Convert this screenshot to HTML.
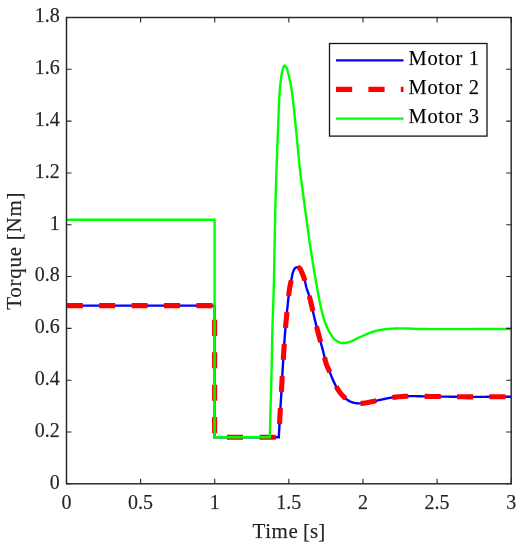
<!DOCTYPE html>
<html><head><meta charset="utf-8"><title>Torque vs Time</title>
<style>html,body{margin:0;padding:0;background:#fff;} svg{display:block;}</style>
</head><body>
<svg width="524" height="550" viewBox="0 0 524 550"><rect x="0" y="0" width="524" height="550" fill="#fff"/>
<clipPath id="c"><rect x="66.5" y="17.5" width="444.7" height="466.3"/></clipPath>
<g clip-path="url(#c)" fill="none" stroke-linejoin="miter">
<path d="M66.50 305.60L214.60 305.60L214.60 437.20L278.80 437.20L278.93 434.91L279.05 432.57L279.18 430.20L279.31 427.82L279.44 425.44L279.57 423.07L279.70 420.73L279.82 418.44L279.95 416.20L280.07 414.04L280.19 411.97L280.30 410.00L280.38 408.64L280.46 407.36L280.53 406.13L280.61 404.94L280.68 403.79L280.76 402.65L280.83 401.52L280.90 400.39L280.97 399.23L281.05 398.04L281.12 396.80L281.20 395.50L281.30 393.83L281.39 392.11L281.49 390.34L281.58 388.53L281.68 386.69L281.78 384.83L281.88 382.95L281.98 381.06L282.08 379.18L282.19 377.30L282.29 375.44L282.40 373.60L282.51 371.78L282.62 369.96L282.73 368.15L282.85 366.33L282.96 364.51L283.08 362.70L283.20 360.88L283.32 359.06L283.44 357.25L283.56 355.43L283.68 353.62L283.80 351.80L283.92 350.00L284.03 348.21L284.15 346.45L284.26 344.68L284.37 342.92L284.48 341.15L284.60 339.37L284.72 337.57L284.85 335.74L284.99 333.87L285.14 331.96L285.30 330.00L285.51 327.50L285.75 324.82L286.01 322.02L286.28 319.13L286.56 316.20L286.85 313.28L287.13 310.40L287.42 307.60L287.69 304.94L287.95 302.46L288.19 300.20L288.40 298.20L288.50 297.24L288.60 296.35L288.68 295.52L288.77 294.73L288.85 293.99L288.93 293.27L289.01 292.57L289.09 291.88L289.18 291.19L289.28 290.49L289.38 289.76L289.50 289.00L289.64 288.18L289.79 287.35L289.94 286.50L290.11 285.66L290.28 284.81L290.46 283.96L290.64 283.11L290.82 282.28L291.00 281.46L291.17 280.65L291.34 279.86L291.50 279.10L291.63 278.47L291.75 277.85L291.86 277.23L291.97 276.62L292.08 276.02L292.19 275.43L292.31 274.85L292.43 274.29L292.55 273.74L292.69 273.21L292.84 272.69L293.00 272.20L293.13 271.83L293.27 271.46L293.40 271.09L293.54 270.73L293.69 270.38L293.83 270.05L293.99 269.72L294.15 269.42L294.33 269.13L294.51 268.86L294.70 268.62L294.90 268.40L295.07 268.25L295.24 268.10L295.42 267.96L295.61 267.84L295.80 267.72L295.99 267.62L296.19 267.53L296.39 267.45L296.60 267.39L296.80 267.34L297.00 267.31L297.20 267.30L297.41 267.30L297.63 267.33L297.85 267.37L298.08 267.42L298.31 267.49L298.54 267.58L298.76 267.69L298.98 267.80L299.20 267.93L299.41 268.08L299.61 268.23L299.80 268.40L300.04 268.66L300.27 268.95L300.48 269.28L300.68 269.64L300.87 270.02L301.05 270.43L301.23 270.85L301.40 271.28L301.57 271.71L301.75 272.15L301.92 272.58L302.10 273.00L302.30 273.47L302.51 273.94L302.71 274.42L302.90 274.91L303.10 275.40L303.29 275.90L303.48 276.41L303.67 276.92L303.86 277.45L304.04 277.99L304.22 278.54L304.40 279.10L304.61 279.81L304.81 280.56L305.00 281.33L305.19 282.13L305.37 282.94L305.55 283.76L305.74 284.58L305.92 285.40L306.10 286.20L306.30 286.99L306.49 287.76L306.70 288.50L306.89 289.12L307.08 289.71L307.28 290.29L307.48 290.86L307.68 291.41L307.89 291.97L308.09 292.52L308.30 293.09L308.50 293.66L308.71 294.25L308.91 294.86L309.10 295.50L309.34 296.32L309.57 297.17L309.80 298.04L310.02 298.93L310.25 299.84L310.47 300.76L310.70 301.70L310.92 302.64L311.14 303.58L311.36 304.53L311.58 305.47L311.80 306.40L312.03 307.37L312.25 308.34L312.48 309.32L312.70 310.31L312.92 311.30L313.15 312.29L313.37 313.28L313.59 314.27L313.82 315.26L314.04 316.24L314.27 317.22L314.50 318.20L314.73 319.15L314.96 320.10L315.19 321.05L315.42 321.99L315.65 322.94L315.88 323.88L316.12 324.82L316.35 325.76L316.59 326.69L316.82 327.63L317.06 328.57L317.30 329.50L317.54 330.42L317.77 331.34L318.01 332.26L318.25 333.17L318.49 334.08L318.73 335.00L318.98 335.91L319.22 336.82L319.46 337.74L319.71 338.65L319.95 339.58L320.20 340.50L320.45 341.45L320.71 342.40L320.97 343.35L321.23 344.30L321.49 345.26L321.75 346.22L322.01 347.18L322.27 348.14L322.53 349.10L322.79 350.06L323.05 351.03L323.30 352.00L323.55 353.00L323.80 354.01L324.03 355.04L324.27 356.08L324.50 357.12L324.74 358.15L324.98 359.18L325.22 360.19L325.47 361.18L325.74 362.15L326.01 363.09L326.30 364.00L326.56 364.73L326.82 365.44L327.10 366.13L327.38 366.81L327.66 367.47L327.96 368.12L328.25 368.76L328.54 369.40L328.84 370.04L329.13 370.69L329.42 371.34L329.70 372.00L329.98 372.67L330.25 373.33L330.52 374.00L330.78 374.67L331.05 375.34L331.32 376.01L331.59 376.67L331.86 377.34L332.13 378.01L332.41 378.67L332.70 379.34L333.00 380.00L333.31 380.67L333.61 381.35L333.92 382.03L334.24 382.70L334.55 383.38L334.88 384.05L335.21 384.72L335.54 385.39L335.89 386.05L336.25 386.71L336.62 387.36L337.00 388.00L337.40 388.65L337.81 389.30L338.24 389.95L338.67 390.60L339.12 391.24L339.57 391.88L340.03 392.51L340.50 393.12L340.97 393.72L341.45 394.30L341.92 394.86L342.40 395.40L342.82 395.86L343.25 396.31L343.68 396.74L344.11 397.17L344.54 397.59L344.98 397.99L345.42 398.38L345.87 398.76L346.32 399.12L346.78 399.46L347.24 399.79L347.70 400.10L348.12 400.37L348.55 400.62L348.98 400.86L349.41 401.09L349.85 401.30L350.28 401.50L350.73 401.70L351.17 401.88L351.62 402.05L352.08 402.21L352.54 402.36L353.00 402.50L353.48 402.63L353.96 402.76L354.46 402.87L354.95 402.96L355.45 403.05L355.96 403.13L356.46 403.20L356.97 403.25L357.48 403.30L357.99 403.34L358.50 403.38L359.00 403.40L359.50 403.42L360.00 403.42L360.50 403.41L361.00 403.40L361.50 403.37L362.00 403.34L362.50 403.30L363.01 403.25L363.52 403.19L364.04 403.13L364.56 403.07L365.10 403.00L365.73 402.91L366.37 402.81L367.03 402.69L367.69 402.56L368.36 402.42L369.04 402.28L369.72 402.14L370.40 401.99L371.08 401.84L371.76 401.69L372.43 401.54L373.10 401.40L373.76 401.26L374.42 401.12L375.08 400.99L375.73 400.85L376.38 400.71L377.03 400.56L377.69 400.42L378.36 400.28L379.03 400.14L379.71 399.99L380.40 399.85L381.10 399.70L381.91 399.53L382.72 399.35L383.54 399.17L384.37 398.98L385.20 398.79L386.05 398.61L386.91 398.42L387.78 398.24L388.68 398.07L389.60 397.90L390.54 397.74L391.50 397.60L392.77 397.43L394.10 397.27L395.47 397.11L396.88 396.97L398.31 396.83L399.77 396.71L401.25 396.60L402.73 396.50L404.22 396.40L405.70 396.32L407.16 396.26L408.60 396.20L410.03 396.16L411.46 396.14L412.89 396.14L414.33 396.15L415.76 396.17L417.20 396.20L418.63 396.24L420.06 396.27L421.50 396.31L422.93 396.35L424.37 396.38L425.80 396.40L427.23 396.42L428.67 396.43L430.10 396.45L431.53 396.47L432.97 396.48L434.40 396.50L435.83 396.52L437.27 396.53L438.70 396.55L440.13 396.57L441.57 396.58L443.00 396.60L444.40 396.62L445.76 396.64L447.09 396.65L448.40 396.67L449.71 396.69L451.03 396.71L452.39 396.73L453.79 396.74L455.26 396.76L456.81 396.78L458.45 396.79L460.20 396.80L463.49 396.82L467.11 396.83L471.01 396.83L475.14 396.83L479.46 396.83L483.92 396.83L488.47 396.82L493.07 396.82L497.67 396.81L502.22 396.81L506.68 396.80L511.00 396.80" stroke="#0000ff" stroke-width="2.4"/>
<path d="M66.75 305.60L82.88 305.60M99.13 305.60L115.25 305.60M131.63 305.60L147.63 305.60M164.00 305.60L180.13 305.60M196.38 305.60L212.50 305.60M214.60 319.75L214.60 335.88M214.60 352.25L214.60 368.26M214.60 384.63L214.60 400.76M214.60 417.01L214.60 433.13M226.91 437.20L243.03 437.20M259.53 437.20L275.78 437.20M279.52 423.99L279.57 423.07L279.70 420.73L279.82 418.44L279.95 416.20L280.07 414.04L280.19 411.97L280.30 410.00L280.38 408.64L280.41 408.14M281.40 391.92L281.49 390.34L281.58 388.53L281.68 386.69L281.78 384.83L281.88 382.95L281.98 381.06L282.08 379.18L282.19 377.30L282.26 376.06M283.27 359.84L283.32 359.06L283.44 357.25L283.56 355.43L283.68 353.62L283.80 351.80L283.92 350.00L284.03 348.21L284.15 346.45L284.26 344.68L284.30 344.00M285.48 327.92L285.51 327.50L285.75 324.82L286.01 322.02L286.28 319.13L286.56 316.20L286.85 313.28L286.98 311.99M288.64 295.95L288.68 295.52L288.77 294.73L288.85 293.99L288.93 293.27L289.01 292.57L289.09 291.88L289.18 291.19L289.28 290.49L289.38 289.76L289.50 289.00L289.64 288.18L289.79 287.35L289.94 286.50L290.11 285.66L290.28 284.81L290.46 283.96L290.64 283.11L290.82 282.28L291.00 281.46L291.17 280.65L291.24 280.30M297.88 267.37L298.08 267.42L298.31 267.49L298.54 267.58L298.76 267.69L298.98 267.80L299.20 267.93L299.41 268.08L299.61 268.23L299.80 268.40L300.04 268.66L300.27 268.95L300.48 269.28L300.68 269.64L300.87 270.02L301.05 270.43L301.23 270.85L301.40 271.28L301.57 271.71L301.75 272.15L301.92 272.58L302.10 273.00L302.30 273.47L302.51 273.94L302.71 274.42L302.90 274.91L303.10 275.40L303.29 275.90L303.48 276.41L303.67 276.92L303.86 277.45L304.04 277.99L304.22 278.54L304.40 279.10L304.61 279.81L304.81 280.56L304.86 280.77M309.24 296.00L309.34 296.32L309.57 297.17L309.80 298.04L310.02 298.93L310.25 299.84L310.47 300.76L310.70 301.70L310.92 302.64L311.14 303.58L311.36 304.53L311.58 305.47L311.80 306.40L312.03 307.37L312.25 308.34L312.48 309.32L312.70 310.31L312.87 311.07M316.57 326.64L316.59 326.69L316.82 327.63L317.06 328.57L317.30 329.50L317.54 330.42L317.77 331.34L318.01 332.26L318.25 333.17L318.49 334.08L318.73 335.00L318.98 335.91L319.22 336.82L319.46 337.74L319.71 338.65L319.95 339.58L320.20 340.50L320.45 341.45L320.57 341.87M324.56 357.36L324.74 358.15L324.98 359.18L325.22 360.19L325.47 361.18L325.74 362.15L326.01 363.09L326.30 364.00L326.56 364.73L326.82 365.44L327.10 366.13L327.38 366.81L327.66 367.47L327.96 368.12L328.25 368.76L328.54 369.40L328.84 370.04L329.13 370.69L329.42 371.34L329.70 372.00L329.77 372.18M336.17 386.56L336.25 386.71L336.62 387.36L337.00 388.00L337.40 388.65L337.81 389.30L338.24 389.95L338.67 390.60L339.12 391.24L339.57 391.88L340.03 392.51L340.50 393.12L340.97 393.72L341.45 394.30L341.92 394.86L342.40 395.40L342.82 395.86L343.25 396.31L343.68 396.74L344.11 397.17L344.54 397.59L344.98 397.99L345.42 398.38L345.74 398.65M360.51 403.41L361.00 403.40L361.50 403.37L362.00 403.34L362.50 403.30L363.01 403.25L363.52 403.19L364.04 403.13L364.56 403.07L365.10 403.00L365.73 402.91L366.37 402.81L367.03 402.69L367.69 402.56L368.36 402.42L369.04 402.28L369.72 402.14L370.40 401.99L371.08 401.84L371.76 401.69L372.43 401.54L373.10 401.40L373.76 401.26L374.42 401.12L375.08 400.99L375.73 400.85L376.26 400.73M392.31 397.49L392.77 397.43L394.10 397.27L395.47 397.11L396.88 396.97L398.31 396.83L399.77 396.71L401.25 396.60L402.73 396.50L404.22 396.40L405.70 396.32L407.16 396.26L408.25 396.21M424.63 396.38L425.80 396.40L427.23 396.42L428.67 396.43L430.10 396.45L431.53 396.47L432.97 396.48L434.40 396.50L435.83 396.52L437.27 396.53L438.70 396.55L440.13 396.57L440.75 396.57M457.00 396.78L458.45 396.79L460.20 396.80L463.49 396.82L467.11 396.83L471.01 396.83L473.12 396.83M489.37 396.82L493.07 396.82L497.67 396.81L502.22 396.81L505.50 396.80" stroke="#ff0000" stroke-width="5.1" stroke-linecap="butt"/>
<path d="M66.50 219.70L214.60 219.70L214.60 437.20L269.80 437.20L269.86 434.95L269.91 432.73L269.97 430.52L270.03 428.33L270.08 426.13L270.14 423.93L270.20 421.70L270.25 419.45L270.31 417.17L270.37 414.84L270.44 412.45L270.50 410.00L270.58 406.94L270.67 403.78L270.76 400.54L270.86 397.24L270.95 393.88L271.05 390.48L271.15 387.06L271.25 383.62L271.34 380.18L271.43 376.76L271.52 373.36L271.60 370.00L271.68 366.67L271.74 363.33L271.81 360.00L271.87 356.67L271.93 353.33L271.99 350.00L272.05 346.67L272.11 343.33L272.17 340.00L272.24 336.67L272.32 333.33L272.40 330.00L272.49 326.67L272.59 323.33L272.70 320.00L272.81 316.67L272.93 313.33L273.05 310.00L273.17 306.67L273.29 303.33L273.40 300.00L273.51 296.67L273.61 293.33L273.70 290.00L273.78 286.67L273.86 283.33L273.94 280.00L274.00 276.67L274.07 273.33L274.13 270.00L274.19 266.67L274.25 263.33L274.31 260.00L274.37 256.67L274.43 253.33L274.50 250.00L274.57 246.67L274.63 243.33L274.69 240.00L274.75 236.67L274.81 233.33L274.88 230.00L274.94 226.67L275.00 223.33L275.07 220.00L275.14 216.67L275.22 213.33L275.30 210.00L275.39 206.67L275.47 203.33L275.56 200.00L275.66 196.67L275.76 193.33L275.86 190.00L275.96 186.67L276.06 183.33L276.17 180.00L276.28 176.67L276.39 173.33L276.50 170.00L276.61 166.66L276.73 163.30L276.85 159.93L276.98 156.55L277.10 153.17L277.23 149.80L277.36 146.44L277.49 143.10L277.62 139.78L277.75 136.49L277.87 133.22L278.00 130.00L278.12 127.00L278.23 123.92L278.34 120.81L278.46 117.69L278.57 114.59L278.68 111.53L278.80 108.55L278.91 105.68L279.03 102.94L279.15 100.36L279.27 97.97L279.40 95.80L279.47 94.69L279.54 93.66L279.60 92.69L279.67 91.78L279.74 90.91L279.81 90.08L279.88 89.25L279.95 88.44L280.03 87.62L280.11 86.78L280.20 85.91L280.30 85.00L280.42 83.94L280.54 82.83L280.67 81.68L280.81 80.51L280.96 79.33L281.10 78.16L281.25 77.01L281.41 75.91L281.56 74.86L281.71 73.88L281.86 72.99L282.00 72.20L282.07 71.83L282.14 71.48L282.21 71.16L282.27 70.85L282.33 70.56L282.40 70.29L282.47 70.02L282.54 69.76L282.62 69.50L282.70 69.24L282.80 68.97L282.90 68.70L283.01 68.41L283.13 68.09L283.25 67.76L283.38 67.42L283.52 67.09L283.66 66.76L283.81 66.46L283.96 66.19L284.11 65.96L284.27 65.77L284.43 65.65L284.60 65.60L284.79 65.63L284.99 65.73L285.21 65.90L285.44 66.12L285.67 66.40L285.90 66.70L286.13 67.03L286.36 67.38L286.57 67.73L286.77 68.07L286.95 68.40L287.10 68.70L287.22 68.97L287.33 69.23L287.42 69.49L287.49 69.74L287.56 70.01L287.62 70.28L287.67 70.56L287.72 70.85L287.78 71.16L287.84 71.48L287.92 71.83L288.00 72.20L288.19 72.99L288.40 73.88L288.63 74.86L288.87 75.91L289.12 77.01L289.38 78.16L289.64 79.33L289.90 80.51L290.14 81.68L290.38 82.83L290.60 83.94L290.80 85.00L290.96 85.91L291.12 86.78L291.26 87.62L291.39 88.44L291.51 89.25L291.64 90.07L291.75 90.91L291.87 91.78L292.00 92.69L292.12 93.66L292.26 94.69L292.40 95.80L292.67 97.97L292.95 100.36L293.25 102.93L293.56 105.68L293.87 108.55L294.19 111.53L294.51 114.59L294.83 117.69L295.16 120.81L295.48 123.92L295.79 126.99L296.10 130.00L296.43 133.24L296.75 136.55L297.07 139.91L297.38 143.31L297.70 146.74L298.02 150.17L298.34 153.59L298.66 156.98L298.98 160.33L299.31 163.63L299.65 166.86L300.00 170.00L300.31 172.70L300.65 175.44L300.99 178.18L301.34 180.92L301.70 183.62L302.05 186.28L302.40 188.86L302.74 191.35L303.06 193.73L303.37 195.98L303.65 198.08L303.90 200.00L304.03 201.02L304.15 201.96L304.27 202.83L304.37 203.66L304.47 204.45L304.57 205.22L304.67 205.97L304.77 206.73L304.87 207.50L304.97 208.29L305.08 209.12L305.20 210.00L305.35 211.11L305.51 212.26L305.67 213.43L305.83 214.62L306.00 215.83L306.17 217.05L306.34 218.29L306.51 219.53L306.69 220.78L306.86 222.02L307.03 223.27L307.20 224.50L307.37 225.77L307.55 227.06L307.72 228.34L307.89 229.64L308.06 230.94L308.23 232.23L308.41 233.53L308.58 234.83L308.76 236.13L308.94 237.43L309.12 238.72L309.30 240.00L309.48 241.26L309.67 242.52L309.86 243.77L310.05 245.02L310.24 246.27L310.43 247.52L310.62 248.76L310.82 250.01L311.01 251.26L311.21 252.50L311.40 253.75L311.60 255.00L311.80 256.25L311.99 257.50L312.19 258.75L312.39 260.00L312.58 261.25L312.78 262.50L312.98 263.75L313.18 265.00L313.38 266.25L313.59 267.50L313.79 268.75L314.00 270.00L314.21 271.26L314.43 272.55L314.65 273.85L314.87 275.15L315.10 276.46L315.32 277.76L315.55 279.04L315.77 280.30L315.99 281.54L316.20 282.74L316.40 283.89L316.60 285.00L316.74 285.80L316.88 286.58L317.02 287.32L317.15 288.04L317.28 288.74L317.40 289.44L317.53 290.13L317.66 290.82L317.79 291.51L317.92 292.22L318.06 292.95L318.20 293.70L318.36 294.57L318.53 295.45L318.69 296.34L318.86 297.24L319.03 298.16L319.20 299.08L319.37 300.00L319.55 300.93L319.73 301.85L319.92 302.77L320.11 303.69L320.30 304.60L320.50 305.51L320.70 306.43L320.90 307.34L321.10 308.26L321.31 309.18L321.52 310.09L321.73 311.01L321.95 311.92L322.18 312.82L322.41 313.72L322.65 314.61L322.90 315.50L323.14 316.35L323.39 317.20L323.65 318.05L323.91 318.90L324.17 319.75L324.44 320.59L324.72 321.42L325.00 322.24L325.29 323.05L325.59 323.85L325.89 324.63L326.20 325.40L326.49 326.08L326.78 326.75L327.07 327.42L327.37 328.07L327.68 328.72L327.99 329.36L328.31 329.98L328.64 330.60L328.97 331.22L329.30 331.82L329.65 332.41L330.00 333.00L330.33 333.55L330.67 334.09L331.02 334.63L331.36 335.17L331.72 335.70L332.08 336.22L332.44 336.73L332.82 337.22L333.20 337.70L333.59 338.15L333.99 338.59L334.40 339.00L334.77 339.35L335.16 339.69L335.55 340.02L335.95 340.34L336.36 340.65L336.77 340.94L337.19 341.21L337.61 341.47L338.03 341.71L338.45 341.93L338.88 342.12L339.30 342.30L339.68 342.44L340.07 342.56L340.46 342.66L340.86 342.74L341.26 342.81L341.66 342.87L342.05 342.92L342.45 342.95L342.84 342.97L343.24 342.99L343.62 343.00L344.00 343.00L344.34 342.99L344.68 342.98L345.02 342.95L345.35 342.92L345.68 342.88L346.01 342.83L346.33 342.77L346.66 342.71L346.99 342.64L347.32 342.56L347.66 342.48L348.00 342.40L348.38 342.30L348.77 342.19L349.15 342.07L349.54 341.94L349.93 341.81L350.32 341.66L350.72 341.52L351.11 341.36L351.51 341.20L351.90 341.04L352.30 340.87L352.70 340.70L353.13 340.51L353.56 340.30L354.00 340.09L354.43 339.87L354.86 339.64L355.30 339.41L355.73 339.17L356.18 338.93L356.62 338.70L357.07 338.46L357.53 338.23L358.00 338.00L358.53 337.75L359.07 337.50L359.61 337.24L360.17 336.99L360.73 336.74L361.29 336.48L361.86 336.23L362.43 335.98L363.00 335.73L363.57 335.48L364.14 335.24L364.70 335.00L365.26 334.76L365.81 334.53L366.37 334.29L366.92 334.05L367.48 333.82L368.04 333.58L368.60 333.36L369.16 333.13L369.71 332.91L370.28 332.70L370.84 332.50L371.40 332.30L371.95 332.11L372.51 331.93L373.07 331.75L373.62 331.58L374.18 331.42L374.74 331.25L375.30 331.10L375.86 330.95L376.42 330.80L376.98 330.66L377.54 330.53L378.10 330.40L378.65 330.28L379.20 330.17L379.75 330.06L380.29 329.96L380.84 329.86L381.39 329.77L381.94 329.68L382.49 329.60L383.04 329.52L383.59 329.45L384.15 329.37L384.70 329.30L385.25 329.23L385.80 329.17L386.35 329.11L386.90 329.05L387.44 329.00L387.99 328.95L388.54 328.90L389.10 328.86L389.66 328.82L390.23 328.78L390.81 328.74L391.40 328.70L392.08 328.66L392.76 328.62L393.46 328.59L394.16 328.55L394.87 328.52L395.59 328.50L396.32 328.47L397.04 328.45L397.78 328.43L398.52 328.42L399.26 328.41L400.00 328.40L400.81 328.40L401.62 328.40L402.45 328.41L403.28 328.42L404.11 328.43L404.95 328.45L405.80 328.47L406.64 328.50L407.48 328.52L408.32 328.55L409.16 328.57L410.00 328.60L410.80 328.63L411.55 328.66L412.26 328.69L412.96 328.73L413.66 328.76L414.37 328.80L415.12 328.84L415.92 328.87L416.79 328.91L417.75 328.94L418.81 328.97L420.00 329.00L424.38 329.06L429.88 329.10L436.32 329.13L443.56 329.13L451.44 329.13L459.79 329.11L468.46 329.09L477.28 329.07L486.11 329.04L494.78 329.02L503.13 329.01L511.00 329.00" stroke="#00ff00" stroke-width="2.4"/>
</g>
<path d="M66.50 483.8V478.8M66.50 17.5V22.5M140.62 483.8V478.8M140.62 17.5V22.5M214.73 483.8V478.8M214.73 17.5V22.5M288.85 483.8V478.8M288.85 17.5V22.5M362.97 483.8V478.8M362.97 17.5V22.5M437.08 483.8V478.8M437.08 17.5V22.5M511.20 483.8V478.8M511.20 17.5V22.5M66.5 483.80H71.5M511.2 483.80H506.2M66.5 431.99H71.5M511.2 431.99H506.2M66.5 380.18H71.5M511.2 380.18H506.2M66.5 328.37H71.5M511.2 328.37H506.2M66.5 276.56H71.5M511.2 276.56H506.2M66.5 224.74H71.5M511.2 224.74H506.2M66.5 172.93H71.5M511.2 172.93H506.2M66.5 121.12H71.5M511.2 121.12H506.2M66.5 69.31H71.5M511.2 69.31H506.2M66.5 17.50H71.5M511.2 17.50H506.2" stroke="#262626" stroke-width="1.1" fill="none"/>
<rect x="66.5" y="17.5" width="444.7" height="466.3" fill="none" stroke="#262626" stroke-width="1.45"/>
<g stroke="#000" stroke-width="0.25" stroke-opacity="0.5">
<text x="66.50" y="509.2" text-anchor="middle" style="font-family:'Liberation Serif',serif;font-size:20px" fill="#262626">0</text>
<text x="140.62" y="509.2" text-anchor="middle" style="font-family:'Liberation Serif',serif;font-size:20px" fill="#262626">0.5</text>
<text x="214.73" y="509.2" text-anchor="middle" style="font-family:'Liberation Serif',serif;font-size:20px" fill="#262626">1</text>
<text x="288.85" y="509.2" text-anchor="middle" style="font-family:'Liberation Serif',serif;font-size:20px" fill="#262626">1.5</text>
<text x="362.97" y="509.2" text-anchor="middle" style="font-family:'Liberation Serif',serif;font-size:20px" fill="#262626">2</text>
<text x="437.08" y="509.2" text-anchor="middle" style="font-family:'Liberation Serif',serif;font-size:20px" fill="#262626">2.5</text>
<text x="511.20" y="509.2" text-anchor="middle" style="font-family:'Liberation Serif',serif;font-size:20px" fill="#262626">3</text>
<text x="59.7" y="488.65" text-anchor="end" style="font-family:'Liberation Serif',serif;font-size:20px" fill="#262626">0</text>
<text x="59.7" y="436.84" text-anchor="end" style="font-family:'Liberation Serif',serif;font-size:20px" fill="#262626">0.2</text>
<text x="59.7" y="385.03" text-anchor="end" style="font-family:'Liberation Serif',serif;font-size:20px" fill="#262626">0.4</text>
<text x="59.7" y="333.22" text-anchor="end" style="font-family:'Liberation Serif',serif;font-size:20px" fill="#262626">0.6</text>
<text x="59.7" y="281.41" text-anchor="end" style="font-family:'Liberation Serif',serif;font-size:20px" fill="#262626">0.8</text>
<text x="59.7" y="229.59" text-anchor="end" style="font-family:'Liberation Serif',serif;font-size:20px" fill="#262626">1</text>
<text x="59.7" y="177.78" text-anchor="end" style="font-family:'Liberation Serif',serif;font-size:20px" fill="#262626">1.2</text>
<text x="59.7" y="125.97" text-anchor="end" style="font-family:'Liberation Serif',serif;font-size:20px" fill="#262626">1.4</text>
<text x="59.7" y="74.16" text-anchor="end" style="font-family:'Liberation Serif',serif;font-size:20px" fill="#262626">1.6</text>
<text x="59.7" y="22.35" text-anchor="end" style="font-family:'Liberation Serif',serif;font-size:20px" fill="#262626">1.8</text>
<text x="252.6" y="537.9" style="font-family:'Liberation Serif',serif;font-size:21px" fill="#262626"><tspan style="letter-spacing:0.55px">Time</tspan><tspan dx="-0.6"> [s]</tspan></text>
<text transform="translate(20.6 250.75) rotate(-90)" x="0" y="0" text-anchor="middle" style="font-family:'Liberation Serif',serif;font-size:21px;letter-spacing:0.75px" fill="#262626">Torque [Nm]</text>
</g>
<rect x="329.5" y="43.5" width="157.5" height="92.6" fill="#fff" stroke="#151515" stroke-width="1.3"/>
<path d="M336 60.4H403.5" stroke="#0000ff" stroke-width="2.4"/>
<path d="M336 89.4H403.5" stroke="#ff0000" stroke-width="5.1" stroke-dasharray="16.2 16.2"/>
<path d="M336 118.6H403.5" stroke="#00ff00" stroke-width="2.4"/>
<g stroke="#000" stroke-width="0.25" stroke-opacity="0.5">
<text x="408.6" y="65.40" style="font-family:'Liberation Serif',serif;font-size:20.5px;letter-spacing:0.62px" fill="#000">Motor 1</text>
<text x="408.6" y="94.10" style="font-family:'Liberation Serif',serif;font-size:20.5px;letter-spacing:0.62px" fill="#000">Motor 2</text>
<text x="408.6" y="123.10" style="font-family:'Liberation Serif',serif;font-size:20.5px;letter-spacing:0.62px" fill="#000">Motor 3</text>
</g></svg>
</body></html>
